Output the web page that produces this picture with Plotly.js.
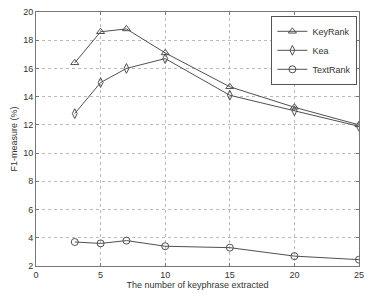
<!DOCTYPE html>
<html><head><meta charset="utf-8">
<script src="https://cdn.plot.ly/plotly-3.0.1.min.js"></script>
<style>html,body{margin:0;padding:0;background:#fff}#c{width:380px;height:297px}</style>
</head><body><div id="c"></div>
<script>
const xVals = [3, 5, 7, 10, 15, 20, 25];
const keyRank = [16.4, 18.6, 18.8, 17.1, 14.7, 13.25, 12.0];
const kea = [12.8, 15.0, 16.0, 16.7, 14.1, 13.0, 11.9];
const textRank = [3.7, 3.6, 3.8, 3.4, 3.3, 2.7, 2.45];
const seriesNames = ['KeyRank', 'Kea', 'TextRank'];
const xTicks = [0, 5, 10, 15, 20, 25];
const yTicks = [2, 4, 6, 8, 10, 12, 14, 16, 18, 20];

const lineColor = '#505050';
function tr(y, name, sym, size) {
  return {x: xVals, y: y, name: name, type: 'scatter', mode: 'lines+markers',
    line: {color: lineColor, width: 1},
    marker: {symbol: sym, size: size, color: lineColor, line: {color: lineColor, width: 1}}};
}
const data = [
  tr(keyRank, seriesNames[0], 'triangle-up-open', 7),
  tr(kea, seriesNames[1], 'diamond-tall-open', 7),
  tr(textRank, seriesNames[2], 'circle-open', 7)
];
const axCommon = {
  showline: true, linecolor: '#777', linewidth: 1, mirror: 'ticks',
  ticks: 'inside', ticklen: 3, tickcolor: '#777',
  showgrid: true, gridcolor: '#bbb', griddash: 'dot', gridwidth: 1,
  zeroline: false, tickfont: {family: 'Liberation Sans, Arial', size: 9, color: '#333'}
};
const layout = {
  width: 380, height: 297,
  margin: {l: 36, r: 21, t: 12, b: 31},
  paper_bgcolor: '#fff', plot_bgcolor: '#fff',
  showlegend: true,
  legend: {x: 0.995, y: 0.985, xanchor: 'right', yanchor: 'top',
    bgcolor: '#fff', bordercolor: '#555', borderwidth: 1,
    font: {family: 'Liberation Sans, Arial', size: 9, color: '#333'},
    itemwidth: 30},
  xaxis: Object.assign({}, axCommon, {range: [0, 25], tickvals: xTicks,
    title: {text: 'The number of keyphrase extracted', standoff: 2,
      font: {family: 'Liberation Sans, Arial', size: 9, color: '#333'}}}),
  yaxis: Object.assign({}, axCommon, {range: [2, 20], tickvals: yTicks,
    title: {text: 'F1-measure (%)', standoff: 4,
      font: {family: 'Liberation Sans, Arial', size: 9, color: '#333'}}})
};
Plotly.newPlot('c', data, layout, {staticPlot: true});
</script></body></html>
